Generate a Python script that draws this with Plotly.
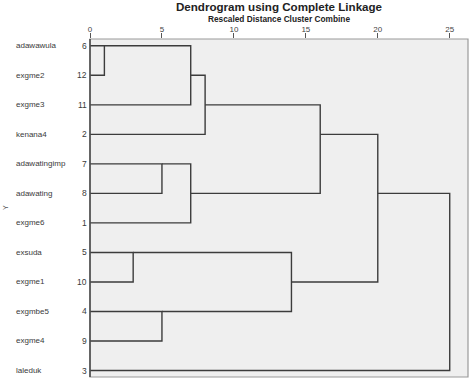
import math
import plotly.graph_objects as go

# ---- data ----
leaf_names = ["adawawula", "exgme2", "exgme3", "kenana4", "adawatingimp", "adawating",
              "exgme6", "exsuda", "exgme1", "exgmbe5", "exgme4", "laleduk"]
case_numbers = ["6", "12", "11", "2", "7", "8", "1", "5", "10", "4", "9", "3"]
# merges (scipy-style: leaves 0..11, new clusters numbered 12, 13, ...)
merge_left = [0, 12, 13, 4, 15, 14, 7, 9, 18, 17, 21]
merge_right = [1, 2, 3, 5, 6, 16, 8, 10, 19, 20, 11]
merge_distance = [1, 7, 8, 5, 7, 16, 3, 5, 14, 20, 25]
x_ticks = [0, 5, 10, 15, 20, 25]

# ---- build dendrogram segments ----
n = len(leaf_names)
pos = {i: (0.0, float(i)) for i in range(n)}
xs, ys = [], []
for k, (a, b, h) in enumerate(zip(merge_left, merge_right, merge_distance)):
    xa, ya = pos[a]
    xb, yb = pos[b]
    xs += [xa, h, h, xb, None]
    ys += [ya, ya, yb, yb, None]
    pos[n + k] = (float(h), float(math.floor((ya + yb) / 2)))

fig = go.Figure()
fig.add_trace(go.Scatter(x=xs, y=ys, mode="lines",
                         line=dict(color="#3c3c3c", width=1.4),
                         hoverinfo="skip", showlegend=False))

annotations = []
font = "Liberation Sans, Arial, sans-serif"
for i, (name, num) in enumerate(zip(leaf_names, case_numbers)):
    annotations.append(dict(x=0, y=i, xref="paper", yref="y", text=name,
                            xanchor="left", xshift=-76, showarrow=False,
                            font=dict(size=8, color="#3a3a3a", family=font)))
    annotations.append(dict(x=0, y=i, xref="paper", yref="y", text=num,
                            xanchor="right", xshift=-1, showarrow=False,
                            font=dict(size=8.5, color="#3a3a3a", family=font)))
annotations.append(dict(x=0, y=0.5, xref="paper", yref="paper", text="Y",
                        xanchor="center", xshift=-85, textangle=-90, showarrow=False,
                        font=dict(size=7, color="#555555", family=font)))
annotations.append(dict(x=0.5, y=1, xref="paper", yref="paper",
                        text="<b>Rescaled Distance Cluster Combine</b>",
                        yanchor="middle", yshift=20, showarrow=False,
                        font=dict(size=8.3, color="#222222", family=font)))

fig.update_layout(
    width=474, height=379,
    margin=dict(l=90, r=6, t=39, b=2),
    paper_bgcolor="white", plot_bgcolor="#efefef",
    title=dict(text="<b>Dendrogram using Complete Linkage</b>",
               x=279 / 474, xanchor="center", y=1 - 7 / 379, yanchor="middle",
               font=dict(size=11.6, color="#222222", family=font)),
    annotations=annotations,
    xaxis=dict(range=[0, 26.27], side="top", tickvals=x_ticks,
               ticktext=[str(t) for t in x_ticks], ticks="outside", ticklen=5,
               tickcolor="#555555", tickwidth=1, showgrid=False, zeroline=False,
               tickfont=dict(size=8, color="#444444", family=font), showline=False,
               ticklabelstandoff=-2),
    yaxis=dict(range=[11.22, -0.23], showticklabels=False, showgrid=False,
               zeroline=False, ticks="", showline=False),
    shapes=[
        dict(type="rect", xref="paper", yref="paper", x0=0, x1=1, y0=0, y1=1,
             line=dict(color="#9a9a9a", width=1.2)),
        dict(type="line", xref="paper", yref="paper", x0=0, x1=0, y0=0, y1=1,
             line=dict(color="#333333", width=1.3)),
    ],
)

fig.write_html("out.html", config={"displayModeBar": False},
               post_script="document.body.style.margin='0';document.body.style.overflow='hidden';")
